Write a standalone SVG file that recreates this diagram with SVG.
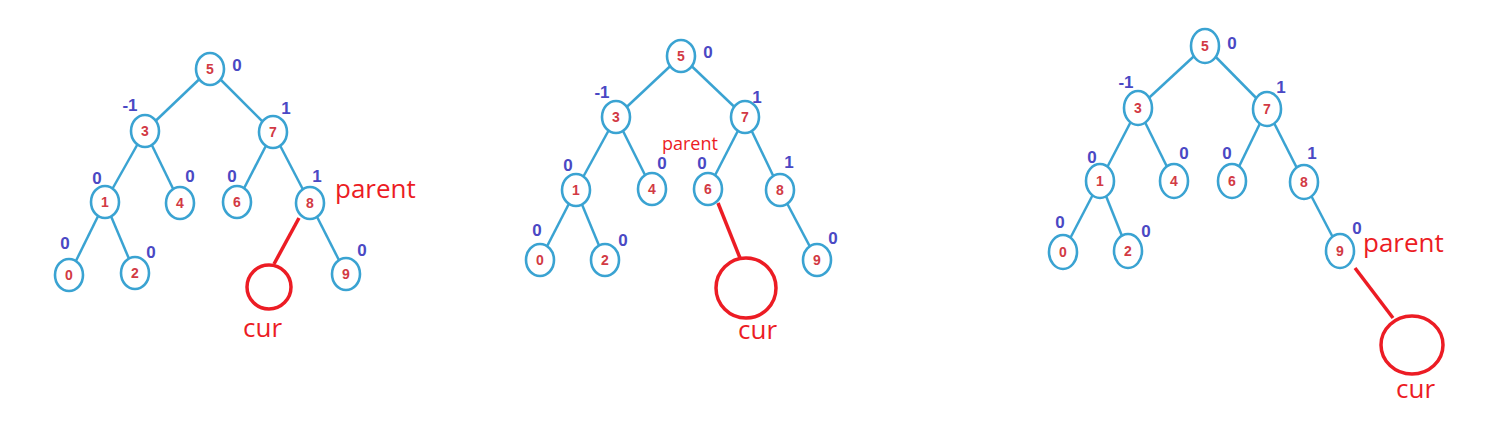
<svg xmlns="http://www.w3.org/2000/svg" width="1507" height="439" viewBox="0 0 1507 439">
<style>
.e{stroke:#3aa3d2;stroke-width:2.5;fill:none}
.n ellipse{fill:#fff;stroke:#3aa3d2;stroke-width:2.6}
.n text{font-family:"Liberation Sans",Arial,sans-serif;font-weight:bold;font-size:14px;fill:#d23a44;text-anchor:middle}
.b{font-family:"Liberation Sans",Arial,sans-serif;font-size:17px;fill:#4a48c4;text-anchor:middle;font-weight:bold}
.r{stroke:#ec1c24;stroke-width:3.5;fill:none}
.a{font-family:"Open Sans","Noto Sans",sans-serif;fill:#ec1c24}
</style>
<rect width="1507" height="439" fill="#fff"/>
<g id="connectors">
<!-- tree 1 -->
<line class="e" x1="210" y1="69" x2="145" y2="131"/>
<line class="e" x1="210" y1="69" x2="273" y2="132"/>
<line class="e" x1="145" y1="131" x2="105" y2="202"/>
<line class="e" x1="145" y1="131" x2="180" y2="203"/>
<line class="e" x1="273" y1="132" x2="237" y2="202"/>
<line class="e" x1="273" y1="132" x2="310" y2="203"/>
<line class="e" x1="105" y1="202" x2="69" y2="275"/>
<line class="e" x1="105" y1="202" x2="135" y2="273"/>
<line class="e" x1="310" y1="203" x2="346" y2="274"/>
<line class="r" x1="299" y1="218" x2="274" y2="264"/>
<!-- tree 2 -->
<line class="e" x1="681" y1="56" x2="616" y2="117"/>
<line class="e" x1="681" y1="56" x2="745" y2="117"/>
<line class="e" x1="616" y1="117" x2="576" y2="190"/>
<line class="e" x1="616" y1="117" x2="652" y2="189"/>
<line class="e" x1="745" y1="117" x2="708" y2="189"/>
<line class="e" x1="745" y1="117" x2="780" y2="190"/>
<line class="e" x1="576" y1="190" x2="540" y2="260"/>
<line class="e" x1="576" y1="190" x2="605" y2="260"/>
<line class="e" x1="780" y1="190" x2="817" y2="260"/>
<line class="r" x1="718" y1="203" x2="740" y2="258"/>
<!-- tree 3 -->
<line class="e" x1="1205" y1="46" x2="1138" y2="108"/>
<line class="e" x1="1205" y1="46" x2="1267" y2="109"/>
<line class="e" x1="1138" y1="108" x2="1100" y2="181"/>
<line class="e" x1="1138" y1="108" x2="1174" y2="181"/>
<line class="e" x1="1267" y1="109" x2="1232" y2="181"/>
<line class="e" x1="1267" y1="109" x2="1304" y2="182"/>
<line class="e" x1="1100" y1="181" x2="1063" y2="252"/>
<line class="e" x1="1100" y1="181" x2="1128" y2="251"/>
<line class="e" x1="1304" y1="182" x2="1340" y2="251"/>
<line class="r" x1="1355" y1="268" x2="1393" y2="318"/>
</g>
<!-- tree 1 nodes -->
<g id="t1-n5" class="n"><ellipse cx="210" cy="69" rx="14" ry="16"/><text x="210" y="74">5</text></g>
<g id="t1-n3" class="n"><ellipse cx="145" cy="131" rx="14" ry="16"/><text x="145" y="136">3</text></g>
<g id="t1-n7" class="n"><ellipse cx="273" cy="132" rx="14" ry="16"/><text x="273" y="137">7</text></g>
<g id="t1-n1" class="n"><ellipse cx="105" cy="202" rx="14" ry="16"/><text x="105" y="207">1</text></g>
<g id="t1-n4" class="n"><ellipse cx="180" cy="203" rx="14" ry="16"/><text x="180" y="208">4</text></g>
<g id="t1-n6" class="n"><ellipse cx="237" cy="202" rx="14" ry="16"/><text x="237" y="207">6</text></g>
<g id="t1-n8" class="n"><ellipse cx="310" cy="203" rx="14" ry="16"/><text x="310" y="208">8</text></g>
<g id="t1-n0" class="n"><ellipse cx="69" cy="275" rx="14" ry="16"/><text x="69" y="280">0</text></g>
<g id="t1-n2" class="n"><ellipse cx="135" cy="273" rx="14" ry="16"/><text x="135" y="278">2</text></g>
<g id="t1-n9" class="n"><ellipse cx="346" cy="274" rx="14" ry="16"/><text x="346" y="279">9</text></g>
<g id="t1-cur"><circle class="r" cx="269" cy="287" r="22"/><text class="a" x="243" y="337" font-size="26">cur</text></g>
<g id="t1-labels">
<text class="b" x="237" y="71">0</text>
<text class="b" x="130" y="111">-1</text>
<text class="b" x="286" y="114">1</text>
<text class="b" x="97" y="184">0</text>
<text class="b" x="190" y="182">0</text>
<text class="b" x="232" y="182">0</text>
<text class="b" x="317" y="182">1</text>
<text class="b" x="65" y="249">0</text>
<text class="b" x="151" y="258">0</text>
<text class="b" x="362" y="256">0</text>
<text class="a" x="335" y="198" font-size="26">parent</text>
</g>
<!-- tree 2 nodes -->
<g id="t2-n5" class="n"><ellipse cx="681" cy="56" rx="14" ry="16"/><text x="681" y="61">5</text></g>
<g id="t2-n3" class="n"><ellipse cx="616" cy="117" rx="14" ry="16"/><text x="616" y="122">3</text></g>
<g id="t2-n7" class="n"><ellipse cx="745" cy="117" rx="14" ry="16"/><text x="745" y="122">7</text></g>
<g id="t2-n1" class="n"><ellipse cx="576" cy="190" rx="14" ry="16"/><text x="576" y="195">1</text></g>
<g id="t2-n4" class="n"><ellipse cx="652" cy="189" rx="14" ry="16"/><text x="652" y="194">4</text></g>
<g id="t2-n6" class="n"><ellipse cx="708" cy="189" rx="14" ry="16"/><text x="708" y="194">6</text></g>
<g id="t2-n8" class="n"><ellipse cx="780" cy="190" rx="14" ry="16"/><text x="780" y="195">8</text></g>
<g id="t2-n0" class="n"><ellipse cx="540" cy="260" rx="14" ry="16"/><text x="540" y="265">0</text></g>
<g id="t2-n2" class="n"><ellipse cx="605" cy="260" rx="14" ry="16"/><text x="605" y="265">2</text></g>
<g id="t2-n9" class="n"><ellipse cx="817" cy="260" rx="14" ry="16"/><text x="817" y="265">9</text></g>
<g id="t2-cur"><circle class="r" cx="746" cy="288" r="30"/><text class="a" x="738" y="339" font-size="26">cur</text></g>
<g id="t2-labels">
<text class="b" x="708" y="58">0</text>
<text class="b" x="602" y="98">-1</text>
<text class="b" x="757" y="103">1</text>
<text class="b" x="568" y="171">0</text>
<text class="b" x="662" y="169">0</text>
<text class="b" x="702" y="169">0</text>
<text class="b" x="789" y="168">1</text>
<text class="b" x="537" y="236">0</text>
<text class="b" x="623" y="246">0</text>
<text class="b" x="833" y="244">0</text>
<text class="a" x="662" y="150" font-size="18">parent</text>
</g>
<!-- tree 3 nodes -->
<g id="t3-n5" class="n"><ellipse cx="1205" cy="46" rx="14" ry="17"/><text x="1205" y="51">5</text></g>
<g id="t3-n3" class="n"><ellipse cx="1138" cy="108" rx="14" ry="17"/><text x="1138" y="113">3</text></g>
<g id="t3-n7" class="n"><ellipse cx="1267" cy="109" rx="14" ry="17"/><text x="1267" y="114">7</text></g>
<g id="t3-n1" class="n"><ellipse cx="1100" cy="181" rx="14" ry="17"/><text x="1100" y="186">1</text></g>
<g id="t3-n4" class="n"><ellipse cx="1174" cy="181" rx="14" ry="17"/><text x="1174" y="186">4</text></g>
<g id="t3-n6" class="n"><ellipse cx="1232" cy="181" rx="14" ry="17"/><text x="1232" y="186">6</text></g>
<g id="t3-n8" class="n"><ellipse cx="1304" cy="182" rx="14" ry="17"/><text x="1304" y="187">8</text></g>
<g id="t3-n0" class="n"><ellipse cx="1063" cy="252" rx="14" ry="17"/><text x="1063" y="257">0</text></g>
<g id="t3-n2" class="n"><ellipse cx="1128" cy="251" rx="14" ry="17"/><text x="1128" y="256">2</text></g>
<g id="t3-n9" class="n"><ellipse cx="1340" cy="251" rx="14" ry="17"/><text x="1340" y="256">9</text></g>
<g id="t3-cur"><ellipse class="r" cx="1412" cy="345" rx="31" ry="29"/><text class="a" x="1396" y="398" font-size="26">cur</text></g>
<g id="t3-labels">
<text class="b" x="1232" y="49">0</text>
<text class="b" x="1126" y="88">-1</text>
<text class="b" x="1281" y="93">1</text>
<text class="b" x="1092" y="163">0</text>
<text class="b" x="1184" y="159">0</text>
<text class="b" x="1227" y="159">0</text>
<text class="b" x="1312" y="159">1</text>
<text class="b" x="1060" y="228">0</text>
<text class="b" x="1146" y="237">0</text>
<text class="b" x="1357" y="234">0</text>
<text class="a" x="1363" y="252" font-size="26">parent</text>
</g>
</svg>
